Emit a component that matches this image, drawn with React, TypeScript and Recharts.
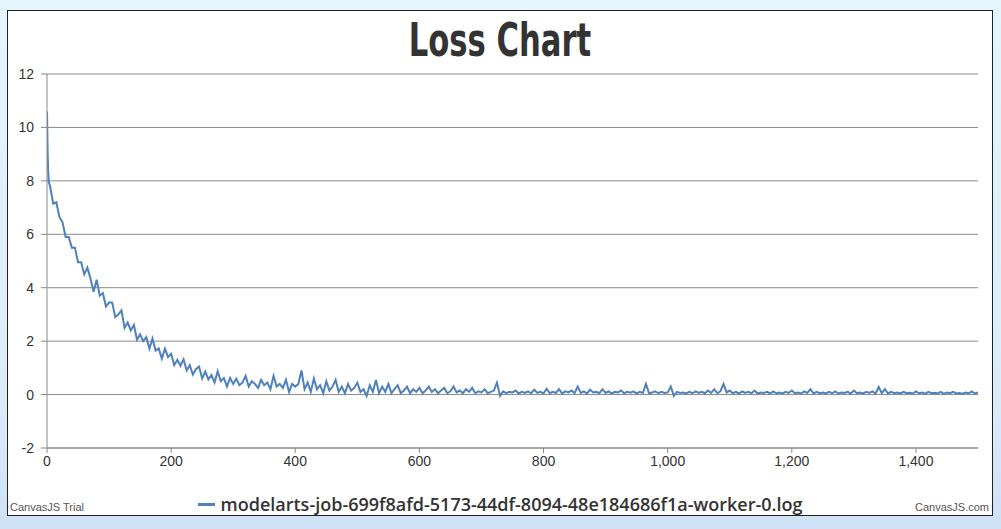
import { LineChart, Line, XAxis, YAxis, CartesianGrid } from "recharts";

// first few logged steps, then the log is sampled every 5 steps
const headSteps = [0, 1, 2, 3];
const headLoss = [10.6, 9.1, 8.3, 7.95];

const SAMPLE_EVERY = 5;
const sampledLoss = [
  7.8, 7.15, 7.2, 6.65, 6.45, 5.9, 5.9, 5.5, 5.5, 4.95,
  4.95, 4.5, 4.75, 4.35, 3.85, 4.3, 3.7, 3.8, 3.3, 3.45,
  3.45, 2.9, 3.0, 3.15, 2.5, 2.7, 2.4, 2.6, 2.05, 2.25,
  2.0, 2.15, 1.72, 2.1, 1.65, 1.73, 1.35, 1.72, 1.4, 1.53,
  1.1, 1.3, 1.08, 1.32, 0.9, 1.1, 0.75, 0.95, 1.05, 0.6,
  0.86, 0.57, 0.73, 0.45, 0.87, 0.5, 0.62, 0.3, 0.62, 0.4,
  0.6, 0.35, 0.45, 0.7, 0.3, 0.5, 0.4, 0.25, 0.55, 0.35,
  0.45, 0.2, 0.7, 0.3, 0.4, 0.25, 0.55, 0.1, 0.4, 0.3,
  0.4, 0.9, 0.2, 0.45, 0.1, 0.6, 0.2, 0.35, 0.05, 0.5,
  0.15, 0.3, 0.55, 0.1, 0.3, 0.05, 0.4, 0.15, 0.25, 0.45,
  0.1, 0.2, -0.05, 0.35, 0.1, 0.55, 0.05, 0.3, 0.1, 0.4,
  0.05, 0.2, 0.35, 0.05, 0.15, 0.3, 0.05, 0.2, 0.1, 0.25,
  0.05, 0.15, 0.3, 0.1, 0.2, 0.05, 0.15, 0.25, 0.05, 0.12,
  0.3, 0.08, 0.15, 0.05, 0.2, 0.1, 0.25, 0.05, 0.12, 0.08,
  0.2, 0.05, 0.1, 0.15, 0.45, -0.05, 0.12, 0.05, 0.1, 0.08,
  0.15, 0.04, 0.1, 0.06, 0.12, 0.05, 0.18, 0.06, 0.1, 0.04,
  0.22, 0.05, 0.1, 0.06, 0.2, 0.04, 0.12, 0.08, 0.15, 0.05,
  0.3, 0.06, 0.12, 0.04, 0.18, 0.08, 0.1, 0.05, 0.2, 0.06,
  0.12, 0.04, 0.1, 0.08, 0.15, 0.05, 0.1, 0.07, 0.12, 0.04,
  0.1, 0.06, 0.4, 0.05, 0.08, 0.12, 0.05, 0.1, 0.06, 0.08,
  0.3, -0.05, 0.1, 0.06, 0.08, 0.04, 0.1, 0.05, 0.12, 0.06,
  0.1, 0.05, 0.15, 0.06, 0.2, 0.05, 0.12, 0.4, 0.08, 0.15,
  0.05, 0.1, 0.04, 0.12, 0.06, 0.1, 0.05, 0.15, 0.04, 0.08,
  0.06, 0.1, 0.04, 0.12, 0.05, 0.08, 0.04, 0.1, 0.06, 0.15,
  0.05, 0.08, 0.04, 0.12, 0.06, 0.2, 0.04, 0.1, 0.05, 0.08,
  0.04, 0.1, 0.05, 0.12, 0.04, 0.08, 0.06, 0.1, 0.04, 0.15,
  0.05, 0.08, 0.04, 0.1, 0.06, 0.12, 0.04, 0.28, 0.05, 0.2,
  0.04, 0.1, 0.05, 0.08, 0.04, 0.1, 0.05, 0.07, 0.04, 0.12,
  0.05, 0.08, 0.03, 0.1, 0.05, 0.07, 0.04, 0.1, 0.03, 0.08,
  0.05, 0.1, 0.04, 0.06, 0.03, 0.08, 0.05, 0.12, 0.04, 0.08,
];

const xTicks = [0, 200, 400, 600, 800, 1000, 1200, 1400];
const yTicks = [-2, 0, 2, 4, 6, 8, 10, 12];

const seriesName = "modelarts-job-699f8afd-5173-44df-8094-48e184686f1a-worker-0.log";

const data = [
  ...headSteps.map((step, i) => ({ step, loss: headLoss[i] })),
  ...sampledLoss.map((loss, i) => ({ step: (i + 1) * SAMPLE_EVERY, loss })),
];

const lineColor = "#4F81BC";
const axisColor = "#8a8a8a";
const tickFont = { fontSize: 14, fill: "#333", fontFamily: "Liberation Sans, Arial, sans-serif" };

export default function App() {
  return (
    <div
      style={{
        position: "fixed",
        left: 0,
        top: 0,
        width: 1001,
        height: 529,
        background: "linear-gradient(to bottom, #e4f5fb 0%, #dcedf9 70%, #cfe2f6 100%)",
        overflow: "hidden",
      }}
    >
      <div
        style={{
          position: "absolute",
          left: 7,
          top: 10,
          width: 984,
          height: 504,
          background: "#fff",
          border: "1px solid #222",
        }}
      >
        <div
          style={{
            position: "absolute",
            left: 0,
            width: "100%",
            top: 4,
            textAlign: "center",
            fontFamily: "Liberation Sans Narrow, DejaVu Sans Condensed, sans-serif",
            fontWeight: 700,
            fontSize: 46,
            color: "#333",
            lineHeight: "50px",
            transform: "scaleX(0.74)",
          }}
        >
          Loss Chart
        </div>

        <LineChart
          width={984}
          height={504}
          data={data}
          margin={{ top: 63, right: 14, left: 0, bottom: 0 }}
        >
          <CartesianGrid horizontal vertical={false} stroke={axisColor} strokeDasharray="" />
          <XAxis
            dataKey="step"
            type="number"
            domain={[0, 1500]}
            ticks={xTicks}
            allowDataOverflow
            tickFormatter={(v: number) => v.toLocaleString("en-US")}
            tick={tickFont}
            tickSize={5}
            tickMargin={3}
            stroke={axisColor}
            height={67}
          />
          <YAxis
            type="number"
            domain={[-2, 12]}
            ticks={yTicks}
            tick={tickFont}
            tickSize={6}
            tickMargin={7}
            stroke={axisColor}
            width={39}
          />
          <Line
            type="linear"
            dataKey="loss"
            stroke={lineColor}
            strokeWidth={2}
            dot={false}
            isAnimationActive={false}
          />
        </LineChart>

        <div
          style={{
            position: "absolute",
            top: 481,
            left: 0,
            width: "100%",
            display: "flex",
            justifyContent: "center",
            alignItems: "center",
            fontFamily: "Open Sans, Noto Sans, sans-serif",
            fontWeight: 600,
            fontSize: 18,
            color: "#333",
          }}
        >
          <span
            style={{
              display: "inline-block",
              width: 17,
              height: 3,
              background: lineColor,
              marginRight: 6,
            }}
          />
          {seriesName}
        </div>

        <div
          style={{
            position: "absolute",
            left: 2,
            bottom: 2,
            fontFamily: "Liberation Sans Narrow, Liberation Sans, sans-serif",
            fontSize: 11,
            color: "#555",
          }}
        >
          CanvasJS Trial
        </div>
        <div
          style={{
            position: "absolute",
            right: 3,
            bottom: 2,
            fontFamily: "Liberation Sans Narrow, Liberation Sans, sans-serif",
            fontSize: 11,
            color: "#555",
          }}
        >
          CanvasJS.com
        </div>
      </div>
    </div>
  );
}
